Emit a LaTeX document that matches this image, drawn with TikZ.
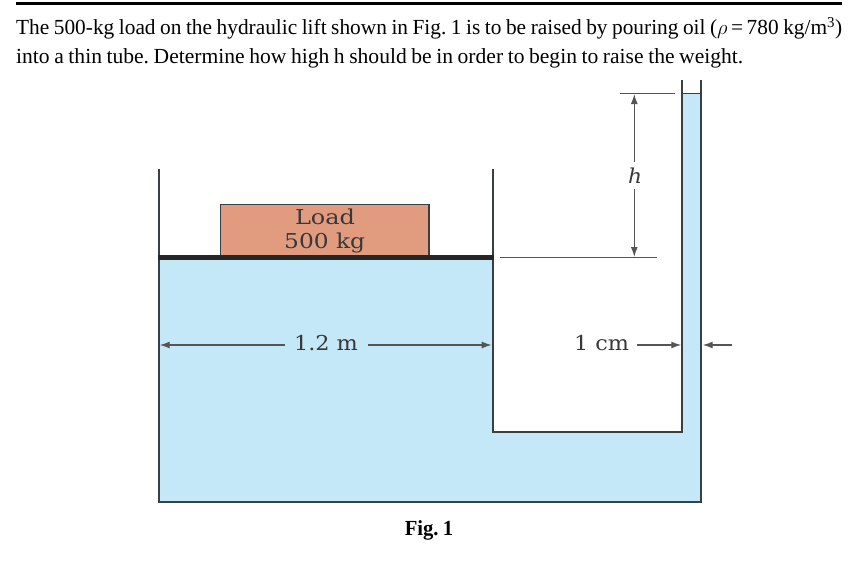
\documentclass[tikz,border=0pt]{standalone}
\usepackage{fontspec}
\setmainfont[WordSpace=0.85]{Liberation Serif}
\newfontfamily\figfont{DejaVu Serif}
\usetikzlibrary{arrows.meta}
\definecolor{water}{HTML}{C5E8F9}
\definecolor{loadc}{HTML}{E19C80}
\definecolor{wall}{HTML}{3A3F44}
\definecolor{dimc}{HTML}{555555}
\newcommand{\fitw}[2]{\resizebox{#1}{\height}{#2}}
\frenchspacing
\tikzset{
  wallline/.style={draw=wall,line width=1.8pt},
  dimline/.style={draw=dimc,line width=1.3pt},
  dimarrow/.style={dimline,-{Latex[length=10pt,width=7pt]}},
  figlabel/.style={inner sep=0pt,anchor=base,text=black!78,font=\figfont\fontsize{20.5}{24}\selectfont},
  prose/.style={inner sep=0pt,anchor=base west,font=\fontsize{21.5}{26}\selectfont}
}
\begin{document}
\begin{tikzpicture}[x=1pt,y=-1pt]
\useasboundingbox (0,0) rectangle (860,581);
% rule and text
\draw[line width=2.7pt] (16,3.3) -- (842,3.3);
\node[prose] (line1) at (16,34.8) {\fitw{826pt}{The 500-kg load on the hydraulic lift shown in Fig. 1 is to be raised by pouring oil ($\rho$\,=\,780 kg/m\textsuperscript{3})}};
\node[prose] (line2) at (16,63.3) {\fitw{727pt}{into a thin tube. Determine how high h should be in order to begin to raise the weight.}};
% water
\fill[water] (158.7,258) -- (492.7,258) -- (492.7,432.3) -- (682.3,432.3) -- (682.3,93.3) -- (701,93.3) -- (701,501.7) -- (158.7,501.7) -- cycle;
% vessel
\draw[wallline] (158.7,169.3) -- (158.7,501.7) -- (701,501.7) -- (701,80);
\draw[wallline] (492.7,169.3) -- (492.7,432.3) -- (682.3,432.3) -- (682.3,80);
\draw[draw=wall,line width=1.2pt] (682.3,93.3) -- (701,93.3);
% load and piston
\node[draw=wall,line width=1.4pt,fill=loadc,minimum width=208.3pt,minimum height=51.7pt,inner sep=0pt] (load) at (324.85,230.15) {};
\fill[black!85] (158,255) rectangle (493.5,260);
\node[figlabel] (loadt) at (325,224.3) {\fitw{60pt}{Load}};
\node[figlabel] (loadm) at (324.7,248.3) {\fitw{81pt}{500 kg}};
% h dimension
\coordinate (hTop) at (634.3,94);
\coordinate (hBot) at (634.3,257);
\coordinate (hTl) at (620,93.3);
\coordinate (hTr) at (675,93.3);
\coordinate (hBl) at (500,257.3);
\coordinate (hBr) at (657.3,257.3);
\draw[dimline] (hTl) -- (hTr);
\draw[dimline] (hBl) -- (hBr);
\node[figlabel,font=\figfont\itshape\fontsize{20.5}{24}\selectfont] (h) at (635,183) {\fitw{14pt}{h}};
\draw[dimarrow] (634.3,161.7) -- (hTop);
\draw[dimarrow] (634.3,189) -- (hBot);
% 1.2 m
\coordinate (wL) at (159.7,345);
\coordinate (wR) at (491.7,345);
\node[figlabel] (wid) at (326,350.7) {\fitw{64pt}{1.2 m}};
\draw[dimarrow] (285,345) -- (wL);
\draw[dimarrow] (368.3,345) -- (wR);
% 1 cm
\coordinate (tL) at (681.3,345);
\coordinate (tR) at (702.7,345);
\node[figlabel] (thk) at (601.5,350.7) {\fitw{55pt}{1 cm}};
\draw[dimarrow] (637.3,345) -- (tL);
\draw[dimarrow] (731.7,345) -- (tR);
% caption
\node[inner sep=0pt,anchor=base,font=\bfseries\fontsize{21.5}{26}\selectfont] (fig) at (429,535) {\fitw{48.5pt}{Fig. 1}};
\end{tikzpicture}
\end{document}
